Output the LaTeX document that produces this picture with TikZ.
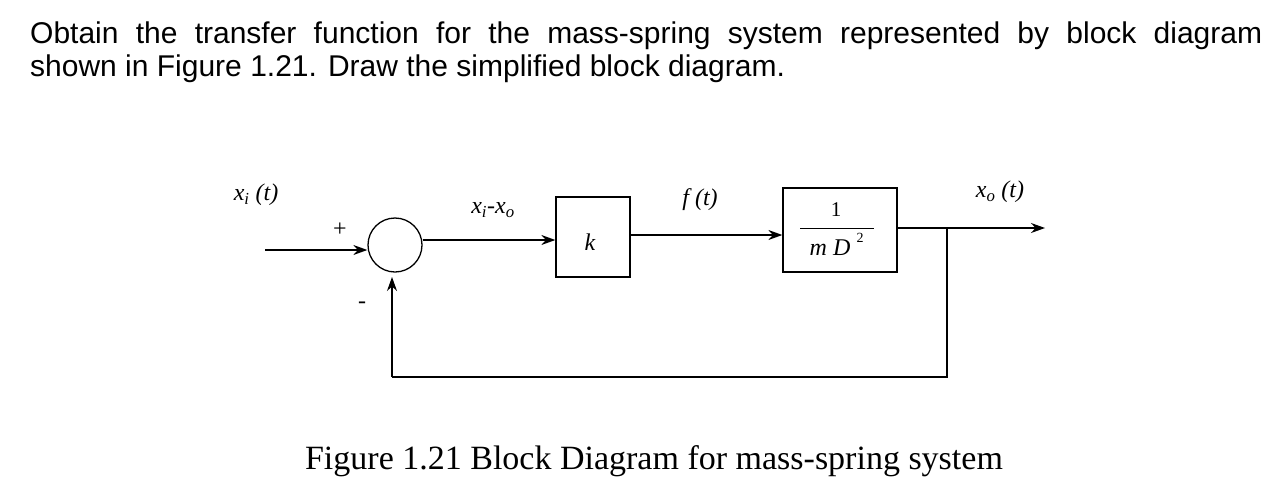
\documentclass[tikz,border=0pt]{standalone}
\usepackage{fontspec}
\setmainfont{Liberation Serif}
\newfontfamily\sansf{Liberation Sans}
\usetikzlibrary{arrows.meta}
\begin{document}
\begin{tikzpicture}[x=1pt,y=-1pt,
  ln/.style={line width=1.3pt},
  ar/.style={ln,-{Stealth[length=14pt,width=10pt]}},
  blk/.style={draw,line width=1.3pt,inner sep=0pt},
  lab/.style={font=\fontsize{24}{28}\selectfont\itshape}]
\useasboundingbox (0,0) rectangle (1280,501);
\node[anchor=north west,inner sep=0pt,text width=1232pt,align=justify,font=\sansf\fontsize{30}{33}\selectfont] (txt) at (30,22)
 {Obtain the transfer function for the mass-spring system represented by block diagram\linebreak shown in Figure 1.21. Draw the simplified block diagram.};
\coordinate (in) at (265,250);
\node[draw,circle,line width=1.3pt,minimum size=54pt,inner sep=0pt] (s) at (395,245) {};
\node[blk,minimum width=74pt,minimum height=80pt] (k) at (593,237) {};
\node[lab] at (590,242) {k};
\node[blk,minimum width=114pt,minimum height=84pt] (g) at (840,230) {};
\node[font=\fontsize{21}{24}\selectfont] at (836,210) {1};
\draw[line width=1pt] (800,228) -- (874,228);
\node[lab] at (830,248) {m D};
\node[font=\fontsize{14}{15}\selectfont] at (860,238) {2};
\coordinate (out) at (1045,228);
\coordinate (br) at (947,228);
\coordinate (c1) at (947,377);
\coordinate (c2) at (392,377);
\coordinate (sb) at (392,277);
\draw[ar] (in) -- (s.west|-in) ;
\draw[ar] (s.east|-0,240) -- (k.west|-0,240);
\draw[ar] (k.east|-0,235) -- (g.west|-0,235);
\draw[ar] (g.east|-out) -- (out);
\draw[ln] (br) -- (c1) -- (c2);
\draw[ar] (c2) -- (sb);
\node[lab] at (256,195) {x\textsubscript{i} (t)};
\node[font=\fontsize{24}{26}\selectfont] at (340,230) {+};
\node[font=\fontsize{24}{26}\selectfont] at (362,305) {-};
\node[lab] at (493,210) {x\textsubscript{i}-x\textsubscript{o}};
\node[lab] at (700,200) {f (t)};
\node[lab] at (1000,192) {x\textsubscript{o} (t)};
\node[font=\fontsize{34}{38}\selectfont] at (654,461) {Figure 1.21 Block Diagram for mass-spring system};
\end{tikzpicture}
\end{document}
